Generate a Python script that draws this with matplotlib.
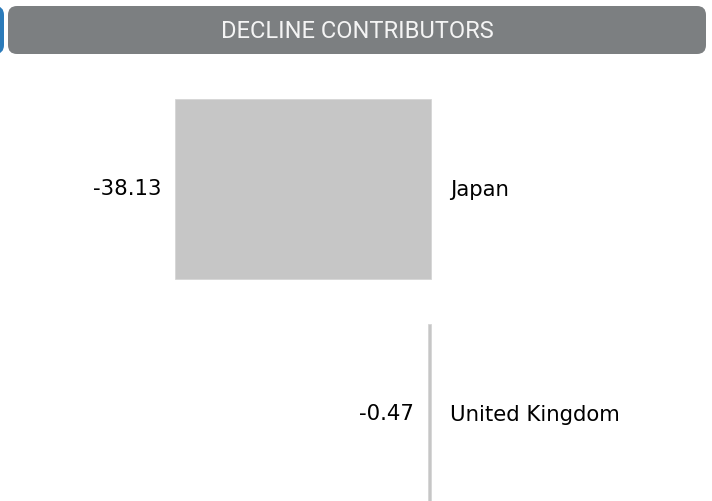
import matplotlib.pyplot as plt
from matplotlib.patches import FancyBboxPatch
from matplotlib.transforms import offset_copy

countries = ["Japan", "United Kingdom"]
values = [-38.13, -0.47]
title = "DECLINE CONTRIBUTORS"

W, H = 712, 501
fig = plt.figure(figsize=(W / 100, H / 100), dpi=100)

# bar area: whole canvas, header drawn on top
ax = fig.add_axes([0, 0, 1, 1])
ax.set_axis_off()
pos = list(range(len(countries)))
ax.barh(pos, values, height=0.8, left=0, color="#c6c6c6",
        edgecolor="#d6d6d6", linewidth=0.6)
ax.set_xlim(-64.2, 41.85)
ax.set_ylim(1.3867, -0.84)

val_tr = offset_copy(ax.transData, fig=fig, x=-14, y=0, units="dots")
cat_tr = offset_copy(ax.transData, fig=fig, x=19, y=-1, units="dots")
for p, v, c in zip(pos, values, countries):
    ax.text(v, p, f"{v:.2f}", transform=val_tr, ha="right", va="center",
            fontsize=15.3, family="DejaVu Sans", color="black")
    ax.text(0, p, c, transform=cat_tr, ha="left", va="center",
            fontsize=15.3, family="DejaVu Sans", color="black")

# header strip
hx = fig.add_axes([0, 447 / H, 1, 48 / H])
hx.set_axis_off()
hx.set_xlim(0, W)
hx.set_ylim(0, 48)
hx.add_patch(FancyBboxPatch((-20, 0), 24, 48, boxstyle="round,pad=0,rounding_size=9",
                            facecolor="#2b7bba", edgecolor="none"))
hx.add_patch(FancyBboxPatch((8, 0), 698, 48, boxstyle="round,pad=0,rounding_size=9",
                            facecolor="#7c7f81", edgecolor="none"))
hx.text(357, 23, title, ha="center", va="center", fontsize=17,
        family="Roboto", color="#f4f4f4")

fig.savefig("out.png", dpi=100)
